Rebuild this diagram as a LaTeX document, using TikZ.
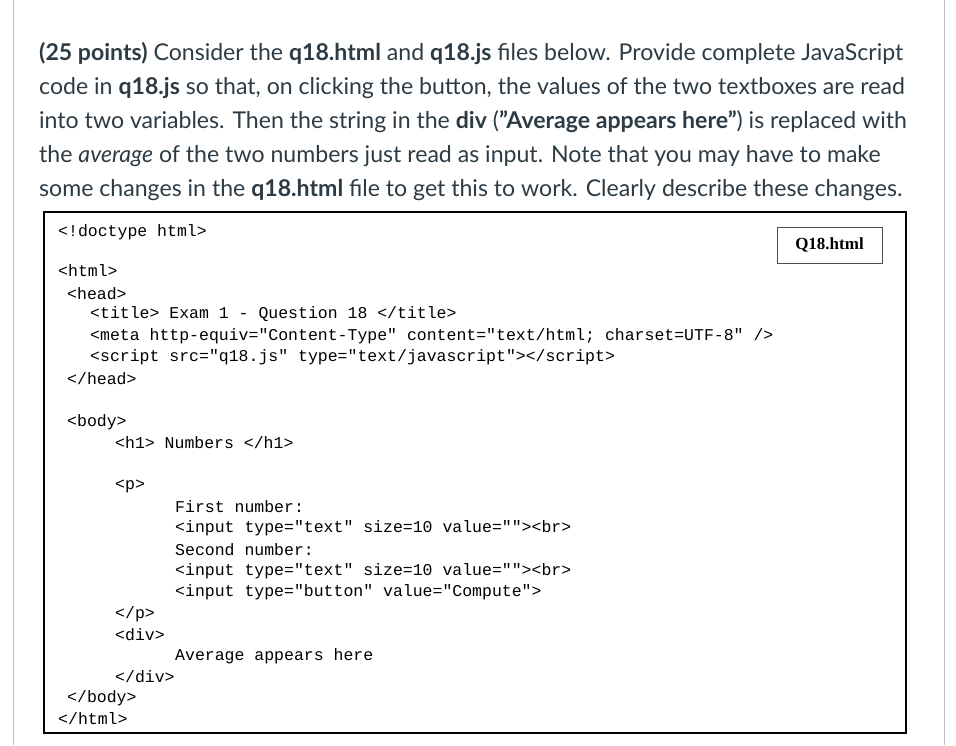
\documentclass[tikz,border=0pt]{standalone}
\usepackage{fontspec}
\setmainfont{Lato}
\newfontfamily\codefont{Liberation Mono}
\newfontfamily\tnr{Liberation Serif}
\definecolor{txt}{RGB}{45,59,69}
\begin{document}
\begin{tikzpicture}[x=1pt,y=-1pt,
  para/.style={anchor=base west,inner sep=0pt,text=txt,font=\fontsize{23.1}{26}\selectfont},
  code/.style={anchor=west,inner sep=0pt,font=\codefont\fontsize{16.5}{19}\selectfont},
  frame/.style={draw=black,line width=2pt},
  side/.style={draw=black!25,line width=1pt}]
\useasboundingbox (0,0) rectangle (956,745);
\draw[side] (13,0) -- (13,745);
\draw[side] (944,0) -- (944,745);
\node[para] (p1) at (39,60) {\textbf{(25 points)} Consider the \textbf{q18.html} and \textbf{q18.js} files below. Provide complete JavaScript};
\node[para] (p2) at (39,94) {code in \textbf{q18.js} so that, on clicking the button, the values of the two textboxes are read};
\node[para] (p3) at (39,128) {into two variables. Then the string in the \textbf{div} (\textbf{\char34 Average appears here\char34}) is replaced with};
\node[para] (p4) at (39,162) {the \textit{average} of the two numbers just read as input. Note that you may have to make};
\node[para] (p5) at (39,196) {some changes in the \textbf{q18.html} file to get this to work. Clearly describe these changes.};
\draw[frame] (44,212) rectangle (906,733);
\node[draw=black!70,line width=1pt,minimum width=105pt,minimum height=36pt,font=\tnr\bfseries\fontsize{17}{20}\selectfont] (lbl) at (829.5,245) {Q18.html};
\node[code] (c1) at (58,232) {<!doctype html>};
\node[code] (c2) at (58,271) {<html>};
\node[code] (c3) at (67,294) {<head>};
\node[code] (c4) at (90,314) {<title> Exam 1 - Question 18 </title>};
\node[code] (c5) at (90,336) {<meta http-equiv="Content-Type" content="text/html; charset=UTF-8" />};
\node[code] (c6) at (90,357) {<script src="q18.js" type="text/javascript"></script>};
\node[code] (c7) at (67,379) {</head>};
\node[code] (c8) at (67,422) {<body>};
\node[code] (c9) at (115,443) {<h1> Numbers </h1>};
\node[code] (c10) at (115,486) {<p>};
\node[code] (c11) at (175,507) {First number:};
\node[code] (c12) at (175,528) {<input type="text" size=10 value=""><br>};
\node[code] (c13) at (175,550) {Second number:};
\node[code] (c14) at (175,571) {<input type="text" size=10 value=""><br>};
\node[code] (c15) at (175,592) {<input type="button" value="Compute">};
\node[code] (c16) at (115,614) {</p>};
\node[code] (c17) at (115,635) {<div>};
\node[code] (c18) at (175,656) {Average appears here};
\node[code] (c19) at (115,677) {</div>};
\node[code] (c20) at (67,698) {</body>};
\node[code] (c21) at (58,719) {</html>};
\end{tikzpicture}
\end{document}
